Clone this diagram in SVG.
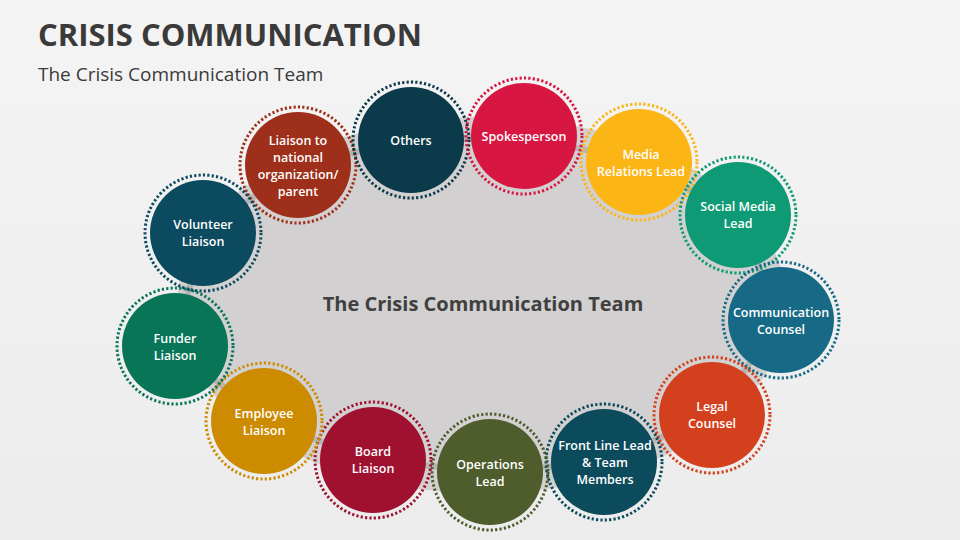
<svg xmlns="http://www.w3.org/2000/svg" width="960" height="540" viewBox="0 0 960 540">
<defs>
<style>
.t{font-family:"Open Sans","Liberation Sans",sans-serif;font-size:12.5px;font-weight:600;fill:#fff;text-anchor:middle}
.ring{fill:none;stroke-width:3;stroke-dasharray:2.2 2.2}
.c{stroke:#fff;stroke-width:0}
</style>
<linearGradient id="bg" x1="0" y1="0" x2="0" y2="1"><stop offset="0" stop-color="#f4f4f4"/><stop offset="1" stop-color="#ececec"/></linearGradient>
</defs>
<rect width="960" height="540" fill="url(#bg)"/>
<text x="38" y="46" font-family="Open Sans,Liberation Sans,sans-serif" font-size="31" font-weight="700" fill="#3a3a3a">CRISIS COMMUNICATION</text>
<text x="38" y="81" font-family="Open Sans,Liberation Sans,sans-serif" font-size="19" fill="#3a3a3a">The Crisis Communication Team</text>
<ellipse cx="482" cy="305" rx="305" ry="188" fill="#d2d0d0"/>
<text x="483" y="311" font-family="Open Sans,Liberation Sans,sans-serif" font-size="20" font-weight="700" fill="#404040" text-anchor="middle">The Crisis Communication Team</text>
<g id="connectors" stroke="#b5b5b5" stroke-width="6" fill="none">
<polyline points="298,165 411,140 524,136 639,162 738,215 781,320 712,415 604,462 490,472 373,460 264,421 175,346 203,233 298,165"/>
</g>
<g id="n1"><circle cx="298" cy="165" r="58" class="ring" stroke="#9e2f1a"/><circle cx="298" cy="165" r="53" fill="#9e2f1a"/><text class="t" x="298" y="145">Liaison to</text><text class="t" x="298" y="162">national</text><text class="t" x="298" y="179">organization/</text><text class="t" x="298" y="196">parent</text></g>
<g id="n2"><circle cx="411" cy="140" r="58" class="ring" stroke="#0b3a4a"/><circle cx="411" cy="140" r="53" fill="#0b3a4a"/><text class="t" x="411" y="145">Others</text></g>
<g id="n3"><circle cx="524" cy="136" r="58" class="ring" stroke="#d81642"/><circle cx="524" cy="136" r="53" fill="#d81642"/><text class="t" x="524" y="141">Spokesperson</text></g>
<g id="n4"><circle cx="639" cy="162" r="58" class="ring" stroke="#fbb515"/><circle cx="639" cy="162" r="53" fill="#fbb515"/><text class="t" x="641" y="159">Media</text><text class="t" x="641" y="176">Relations Lead</text></g>
<g id="n5"><circle cx="738" cy="215" r="58" class="ring" stroke="#0e9a74"/><circle cx="738" cy="215" r="53" fill="#0e9a74"/><text class="t" x="738" y="211">Social Media</text><text class="t" x="738" y="228">Lead</text></g>
<g id="n6"><circle cx="781" cy="320" r="58" class="ring" stroke="#176a86"/><circle cx="781" cy="320" r="53" fill="#176a86"/><text class="t" x="781" y="317">Communication</text><text class="t" x="781" y="334">Counsel</text></g>
<g id="n7"><circle cx="712" cy="415" r="58" class="ring" stroke="#d3401e"/><circle cx="712" cy="415" r="53" fill="#d3401e"/><text class="t" x="712" y="411">Legal</text><text class="t" x="712" y="428">Counsel</text></g>
<g id="n8"><circle cx="604" cy="462" r="58" class="ring" stroke="#0b4b5c"/><circle cx="604" cy="462" r="53" fill="#0b4b5c"/><text class="t" x="605" y="450">Front Line Lead</text><text class="t" x="605" y="467">&amp; Team</text><text class="t" x="605" y="484">Members</text></g>
<g id="n9"><circle cx="490" cy="472" r="58" class="ring" stroke="#4e5d2b"/><circle cx="490" cy="472" r="53" fill="#4e5d2b"/><text class="t" x="490" y="469">Operations</text><text class="t" x="490" y="486">Lead</text></g>
<g id="n10"><circle cx="373" cy="460" r="58" class="ring" stroke="#a0102f"/><circle cx="373" cy="460" r="53" fill="#a0102f"/><text class="t" x="373" y="456">Board</text><text class="t" x="373" y="473">Liaison</text></g>
<g id="n11"><circle cx="264" cy="421" r="58" class="ring" stroke="#cc8b00"/><circle cx="264" cy="421" r="53" fill="#cc8b00"/><text class="t" x="264" y="418">Employee</text><text class="t" x="264" y="435">Liaison</text></g>
<g id="n12"><circle cx="175" cy="346" r="58" class="ring" stroke="#077556"/><circle cx="175" cy="346" r="53" fill="#077556"/><text class="t" x="175" y="343">Funder</text><text class="t" x="175" y="360">Liaison</text></g>
<g id="n13"><circle cx="203" cy="233" r="58" class="ring" stroke="#0c4a60"/><circle cx="203" cy="233" r="53" fill="#0c4a60"/><text class="t" x="203" y="229">Volunteer</text><text class="t" x="203" y="246">Liaison</text></g>
</svg>
